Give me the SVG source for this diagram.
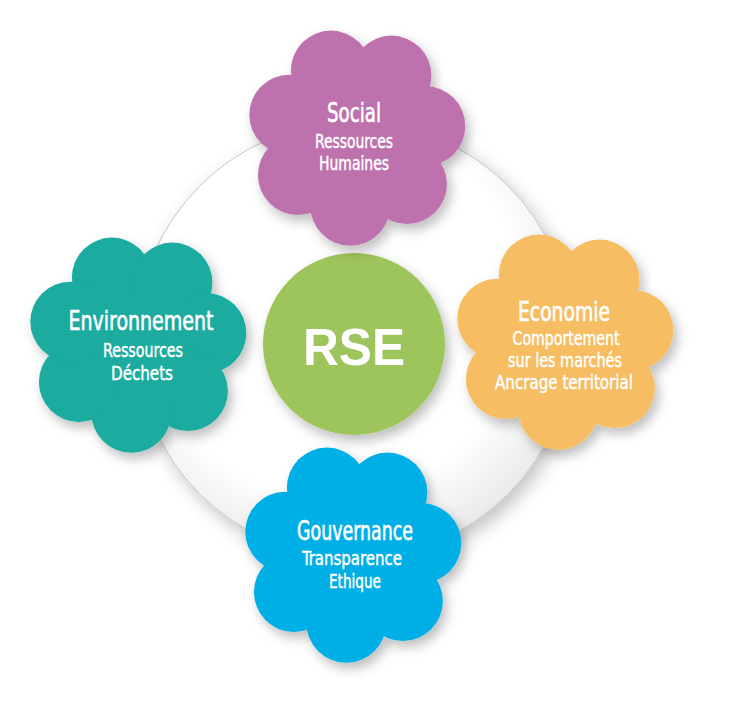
<svg xmlns="http://www.w3.org/2000/svg" xmlns:xlink="http://www.w3.org/1999/xlink" width="734" height="720" viewBox="0 0 734 720">
  <style>
    .lbl { font-family: "Liberation Sans Narrow", "DejaVu Sans Condensed", "Liberation Sans", sans-serif; fill: #ffffff; stroke: #ffffff; text-anchor: middle; }
    .t1 { font-size: 27px; stroke-width: 0.6px; }
    .t2 { font-size: 20px; stroke-width: 0.45px; }
    .rse { font-family: "Liberation Sans", Arial, sans-serif; font-weight: bold; font-size: 52px; fill: #ffffff; text-anchor: middle; }
  </style>
  <defs>
    <filter id="shadow" x="-30%" y="-30%" width="160%" height="160%">
      <feDropShadow dx="4" dy="6" stdDeviation="6" flood-color="#000" flood-opacity="0.26"/>
    </filter>
    <filter id="ringShadow" x="-20%" y="-20%" width="140%" height="140%">
      <feDropShadow dx="5" dy="7" stdDeviation="9" flood-color="#000" flood-opacity="0.24"/>
    </filter>
    <radialGradient id="ringFill" cx="45%" cy="42%" r="60%">
      <stop offset="0.72" stop-color="#ffffff"/>
      <stop offset="1" stop-color="#e9e9e9"/>
    </radialGradient>
    <g id="flower">
      <circle cx="0" cy="0" r="72"/>
      <circle cx="-25.1" cy="-65.4" r="40"/>
      <circle cx="35.4" cy="-60.4" r="40"/>
      <circle cx="69.3" cy="-9.9" r="40"/>
      <circle cx="50.9" cy="48.0" r="40"/>
      <circle cx="-5.7" cy="69.8" r="40"/>
      <circle cx="-58.1" cy="39.0" r="40"/>
      <circle cx="-66.7" cy="-21.2" r="40"/>
    </g>
  </defs>

  <rect width="734" height="720" fill="#ffffff"/>

  <g id="ring">
    <circle cx="354" cy="340" r="218" fill="url(#ringFill)" stroke="#c4c4c4" stroke-width="1" filter="url(#ringShadow)"/>
  </g>

  <g id="node-rse">
    <circle cx="354" cy="344" r="91" fill="#9ec45c" filter="url(#shadow)"/>
    <text class="rse" x="354" y="365" textLength="102" lengthAdjust="spacingAndGlyphs">RSE</text>
  </g>

  <g id="node-social">
    <use xlink:href="#flower" href="#flower" x="356" y="136" fill="#be72ad" filter="url(#shadow)"/>
    <text class="lbl t1" x="354" y="122" textLength="54" lengthAdjust="spacingAndGlyphs">Social</text>
    <text class="lbl t2" x="354" y="148" textLength="78" lengthAdjust="spacingAndGlyphs">Ressources</text>
    <text class="lbl t2" x="354" y="170" textLength="70" lengthAdjust="spacingAndGlyphs">Humaines</text>
  </g>

  <g id="node-environnement">
    <use xlink:href="#flower" href="#flower" x="137" y="343" fill="#1aab9f" filter="url(#shadow)"/>
    <text class="lbl t1" x="141" y="330" textLength="145" lengthAdjust="spacingAndGlyphs">Environnement</text>
    <text class="lbl t2" x="143" y="357" textLength="80" lengthAdjust="spacingAndGlyphs">Ressources</text>
    <text class="lbl t2" x="142" y="380" textLength="62" lengthAdjust="spacingAndGlyphs">Déchets</text>
  </g>

  <g id="node-economie">
    <use xlink:href="#flower" href="#flower" x="564" y="340" fill="#f6bd62" filter="url(#shadow)"/>
    <text class="lbl t1" x="564" y="321" textLength="92" lengthAdjust="spacingAndGlyphs">Economie</text>
    <text class="lbl t2" x="566" y="345" textLength="107" lengthAdjust="spacingAndGlyphs">Comportement</text>
    <text class="lbl t2" x="565" y="367" textLength="114" lengthAdjust="spacingAndGlyphs">sur les marchés</text>
    <text class="lbl t2" x="564" y="389" textLength="138" lengthAdjust="spacingAndGlyphs">Ancrage territorial</text>
  </g>

  <g id="node-gouvernance">
    <use xlink:href="#flower" href="#flower" x="352" y="553" fill="#06afe6" filter="url(#shadow)"/>
    <text class="lbl t1" x="355" y="540" textLength="116" lengthAdjust="spacingAndGlyphs">Gouvernance</text>
    <text class="lbl t2" x="352" y="565" textLength="100" lengthAdjust="spacingAndGlyphs">Transparence</text>
    <text class="lbl t2" x="355" y="588" textLength="52" lengthAdjust="spacingAndGlyphs">Ethique</text>
  </g>
</svg>
